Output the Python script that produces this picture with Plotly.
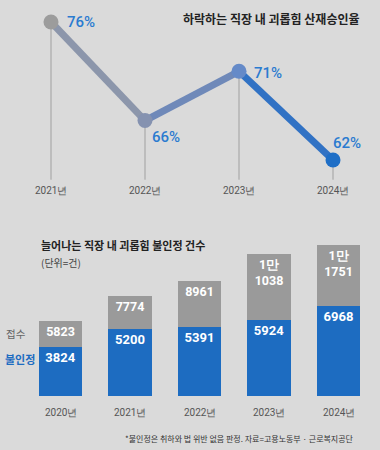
import plotly.graph_objects as go

# ---- data ----
rate_years = ["2021년", "2022년", "2023년", "2024년"]
rate_values = [76, 66, 71, 62]
rate_labels = ["76%", "66%", "71%", "62%"]

bar_years = ["2020년", "2021년", "2022년", "2023년", "2024년"]
received = [5823, 7774, 8961, 11038, 11751]
received_labels = ["5823", "7774", "8961", "1만<br>1038", "1만<br>1751"]
rejected = [3824, 5200, 5391, 5924, 6968]
rejected_labels = ["3824", "5200", "5391", "5924", "6968"]

KR = "Noto Sans CJK KR, Noto Sans, sans-serif"
NUM = "Liberation Sans Narrow, Roboto, Arial, sans-serif"
BLUE = "#1d6cc1"
LBLUE = "#2a7bd0"
GRAY = "#9a9a9a"

fig = go.Figure()


def px_y(p):
    return 1 - p / 450


# ---- top: line chart ----
xs = list(range(len(rate_values)))
drop_x, drop_y = [], []
for i, v in enumerate(rate_values):
    drop_x += [i, i, None]
    drop_y += [v, 60, None]
fig.add_trace(go.Scatter(x=drop_x, y=drop_y, mode="lines",
                         line=dict(color="#a0a0a0", width=1),
                         xaxis="x", yaxis="y", hoverinfo="skip", showlegend=False))

seg_colors = ["#8c96ab", "#6f89b9", "#3172c4"]
for i in range(len(rate_values) - 1):
    fig.add_trace(go.Scatter(x=[xs[i], xs[i + 1]], y=[rate_values[i], rate_values[i + 1]],
                             mode="lines", line=dict(color=seg_colors[i], width=7),
                             xaxis="x", yaxis="y", showlegend=False))
fig.add_trace(go.Scatter(x=xs, y=rate_values, mode="markers",
                         marker=dict(size=15, color=["#9c9c9c", "#8592b0", "#658ac8", "#1e6ec6"]),
                         xaxis="x", yaxis="y", showlegend=False))

label_shift = [(30, 0), (21, -16), (29, -2), (14, 17)]
for i, (v, t) in enumerate(zip(rate_values, rate_labels)):
    fig.add_annotation(x=xs[i], y=v, xref="x", yref="y", text=t, showarrow=False,
                       xanchor="center", yanchor="middle",
                       xshift=label_shift[i][0], yshift=label_shift[i][1],
                       font=dict(family="Roboto, Arial, sans-serif", size=15, color=LBLUE, weight=500))
    fig.add_annotation(x=xs[i], y=px_y(191), xref="x", yref="paper", text=rate_years[i],
                       showarrow=False, xanchor="center", yanchor="middle",
                       font=dict(family=NUM, size=10, color="#555555"))

# ---- bottom: bar chart ----
bx = list(range(len(bar_years)))
fig.add_trace(go.Bar(x=bx, y=received, width=0.62, marker=dict(color=GRAY, line=dict(width=0)),
                     text=received_labels, textposition="inside", insidetextanchor="end",
                     textangle=0, constraintext="none",
                     textfont=dict(family=NUM, size=12.5, color="white", weight=700),
                     xaxis="x2", yaxis="y2", showlegend=False))
fig.add_trace(go.Bar(x=bx, y=rejected, width=0.62, marker=dict(color=BLUE, line=dict(width=0)),
                     text=rejected_labels, textposition="inside", insidetextanchor="end",
                     textangle=0, constraintext="none",
                     textfont=dict(family=NUM, size=13, color="white", weight=700),
                     xaxis="x2", yaxis="y2", showlegend=False))
for i, yr in enumerate(bar_years):
    fig.add_annotation(x=bx[i], y=px_y(412), xref="x2", yref="paper", text=yr, showarrow=False,
                       xanchor="center", yanchor="middle",
                       font=dict(family=NUM, size=10, color="#555555"))

# ---- texts ----
fig.add_annotation(x=362 / 380, y=px_y(18), xref="paper", yref="paper",
                   xanchor="right", yanchor="middle",
                   text="<b>하락하는 직장 내 괴롭힘 산재승인율</b>", showarrow=False,
                   font=dict(family=KR, size=12, color="#222222"))
fig.add_annotation(x=39 / 380, y=px_y(245), xref="paper", yref="paper",
                   xanchor="left", yanchor="middle",
                   text="<b>늘어나는 직장 내 괴롭힘 불인정 건수</b>", showarrow=False,
                   font=dict(family=KR, size=11, color="#222222"))
fig.add_annotation(x=39 / 380, y=px_y(262), xref="paper", yref="paper",
                   xanchor="left", yanchor="middle",
                   text="(단위=건)", showarrow=False,
                   font=dict(family=KR, size=10, color="#444444"))
fig.add_annotation(x=16 / 380, y=px_y(333), xref="paper", yref="paper",
                   xanchor="center", yanchor="middle",
                   text="접수", showarrow=False,
                   font=dict(family=KR, size=10.5, color="#666666"))
fig.add_annotation(x=20 / 380, y=px_y(359), xref="paper", yref="paper",
                   xanchor="center", yanchor="middle",
                   text="<b>불인정</b>", showarrow=False,
                   font=dict(family=KR, size=11, color=BLUE))
fig.add_annotation(x=356 / 380, y=px_y(438), xref="paper", yref="paper",
                   xanchor="right", yanchor="middle",
                   text="*불인정은 취하와 법 위반 없음 판정. 자료=고용노동부 · 근로복지공단",
                   showarrow=False, font=dict(family=KR, size=8, color="#333333"))

axis_off = dict(visible=False, showgrid=False, zeroline=False, fixedrange=True)
fig.update_layout(
    width=380, height=450,
    margin=dict(l=0, r=0, t=0, b=0),
    paper_bgcolor="#dadada", plot_bgcolor="rgba(0,0,0,0)",
    barmode="overlay", bargap=0,
    xaxis=dict(domain=[0, 1], range=[-51 / 94, -51 / 94 + 380 / 94], anchor="y", **axis_off),
    yaxis=dict(domain=[0, 1], range=[76 - 428 / 9.857, 76 + 22 / 9.857], anchor="x", **axis_off),
    xaxis2=dict(domain=[0, 1], range=[-60.5 / 69.5, -60.5 / 69.5 + 380 / 69.5], anchor="y2", **axis_off),
    yaxis2=dict(domain=[0, 1], range=[-54 / 0.01285, 396 / 0.01285], anchor="x2", **axis_off),
    showlegend=False,
)

fig.write_html("out.html", config={"displayModeBar": False},
               post_script="document.body.style.margin='0';document.body.style.overflow='hidden';")
